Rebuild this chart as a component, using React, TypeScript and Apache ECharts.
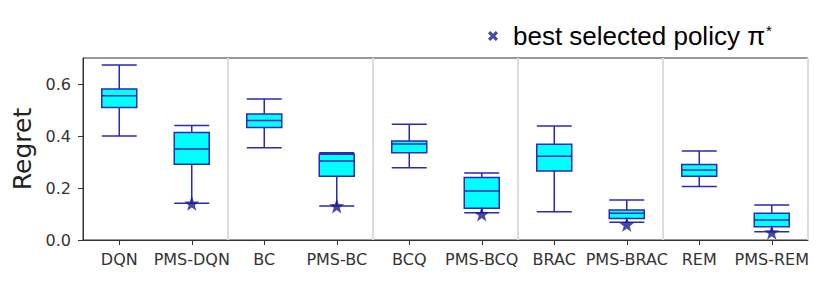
import React, { useEffect, useRef } from "react";
import * as echarts from "echarts";

const categories = ["DQN", "PMS-DQN", "BC", "PMS-BC", "BCQ", "PMS-BCQ", "BRAC", "PMS-BRAC", "REM", "PMS-REM"];
// [low whisker, Q1, median, Q3, high whisker]
const boxValues = [
  [0.4, 0.51, 0.555, 0.581, 0.673],
  [0.141, 0.291, 0.35, 0.413, 0.44],
  [0.355, 0.433, 0.46, 0.485, 0.542],
  [0.131, 0.245, 0.304, 0.33, 0.336],
  [0.278, 0.336, 0.369, 0.381, 0.445],
  [0.105, 0.122, 0.188, 0.24, 0.258],
  [0.109, 0.265, 0.322, 0.368, 0.438],
  [0.068, 0.083, 0.103, 0.115, 0.154],
  [0.206, 0.245, 0.269, 0.29, 0.342],
  [0.032, 0.051, 0.077, 0.103, 0.135],
];
const bestSelected = [null, 0.141, null, 0.131, null, 0.1, null, 0.06, null, 0.03];
const yTicks = { min: 0, max: 0.7, interval: 0.2 };
const legendName = "best selected policy π*";

const STAR =
  "path://M0,-10 L2.35,-3.24 L9.51,-3.09 L3.8,1.24 L5.88,8.09 L0,4 L-5.88,8.09 L-3.8,1.24 L-9.51,-3.09 L-2.35,-3.24 Z";
const CROSS =
  "path://M2.2,0 L5,2.8 L7.8,0 L10,2.2 L7.2,5 L10,7.8 L7.8,10 L5,7.2 L2.2,10 L0,7.8 L2.8,5 L0,2.2 Z";

export default function App() {
  const ref = useRef<HTMLDivElement>(null);
  useEffect(() => {
    if (!ref.current) return;
    const chart = echarts.init(ref.current, undefined, { renderer: "svg" });
    const tickFont = { fontFamily: "DejaVu Sans", fontSize: 16, color: "#333" };
    chart.setOption({
      animation: false,
      backgroundColor: "#fff",
      grid: {
        left: 83,
        right: 14,
        top: 58,
        bottom: 42,
        show: true,
        borderColor: "#333",
        borderWidth: 1,
        backgroundColor: "transparent",
      },
      legend: {
        left: 483,
        top: 18,
        itemWidth: 30,
        itemHeight: 10,
        data: [{ name: legendName, icon: CROSS }],
        formatter: () => "best selected policy π{s|*}",
        textStyle: {
          fontFamily: "Liberation Sans",
          fontSize: 26,
          color: "#000",
          rich: { s: { fontSize: 15, verticalAlign: "top", padding: [0, 0, 0, 1] } },
        },
      },
      xAxis: {
        type: "category",
        data: categories,
        boundaryGap: true,
        axisLine: { show: true, lineStyle: { color: "#333", width: 1 } },
        axisTick: { show: true, alignWithLabel: true, length: 5, lineStyle: { color: "#333" } },
        axisLabel: { ...tickFont, margin: 11, interval: 0 },
        splitLine: {
          show: true,
          interval: (i: number) => i % 2 === 0 && i > 0 && i < categories.length,
          lineStyle: { color: "#ddd", width: 2 },
        },
      },
      yAxis: {
        type: "value",
        min: yTicks.min,
        max: yTicks.max,
        interval: yTicks.interval,
        name: "Regret",
        nameLocation: "middle",
        nameGap: 47,
        nameTextStyle: { fontFamily: "DejaVu Sans", fontSize: 25, color: "#222" },
        axisLine: { show: true, lineStyle: { color: "#333", width: 1 } },
        axisTick: { show: true, length: 5, lineStyle: { color: "#333" } },
        axisLabel: {
          ...tickFont,
          margin: 12,
          showMaxLabel: false,
          formatter: (v: number) => v.toFixed(1),
        },
        splitLine: { show: false },
      },
      series: [
        {
          type: "boxplot",
          data: boxValues,
          boxWidth: [35, 35],
          itemStyle: { color: "#00ffff", borderColor: "#2a2ab8", borderWidth: 1.5 },
          emphasis: { disabled: true },
          z: 2,
        },
        {
          type: "scatter",
          name: legendName,
          data: bestSelected,
          symbol: STAR,
          symbolSize: 15,
          itemStyle: { color: "#1a1a90" },
          z: 3,
        },
      ],
    });
    return () => chart.dispose();
  }, []);
  return <div ref={ref} style={{ width: 822, height: 282, marginLeft: -8, marginTop: -8 }} />;
}
